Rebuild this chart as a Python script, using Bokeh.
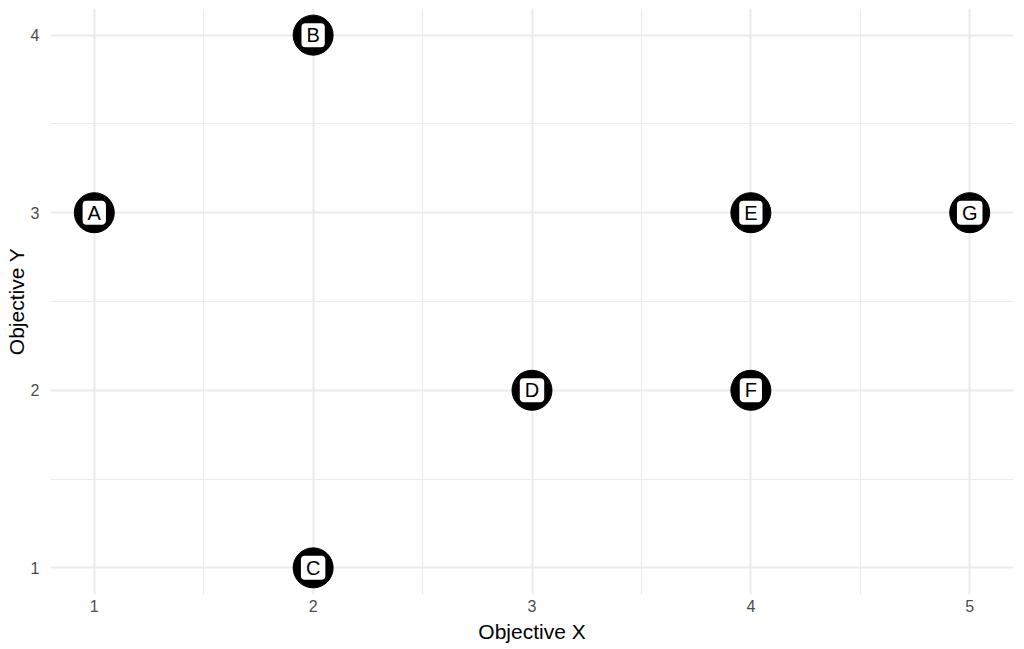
from bokeh.plotting import figure
from bokeh.models import ColumnDataSource, FixedTicker, Range1d
from bokeh.core.properties import value
from bokeh.embed import file_html
from bokeh.resources import INLINE

labels = ["A", "B", "C", "D", "E", "F", "G"]
obj_x = [1, 2, 2, 3, 4, 4, 5]
obj_y = [3, 4, 1, 2, 3, 2, 3]
x_ticks = [1, 2, 3, 4, 5]
y_ticks = [1, 2, 3, 4]

FONT = "Liberation Sans"

src = ColumnDataSource(dict(x=obj_x, y=obj_y, label=labels))

p = figure(width=1016, height=645, output_backend="svg", toolbar_location=None,
           x_range=Range1d(0.8, 5.2), y_range=Range1d(0.85, 4.15),
           min_border_top=8, min_border_right=3, min_border_left=50, min_border_bottom=51)
p.outline_line_color = None
p.background_fill_color = "white"
p.border_fill_color = "white"

p.xaxis.ticker = FixedTicker(ticks=x_ticks, minor_ticks=[0.5, 1.5, 2.5, 3.5, 4.5, 5.5])
p.yaxis.ticker = FixedTicker(ticks=y_ticks, minor_ticks=[0.5, 1.5, 2.5, 3.5, 4.5])

for ax in (p.xaxis, p.yaxis):
    ax.axis_line_color = None
    ax.major_tick_line_color = None
    ax.minor_tick_line_color = None
    ax.major_tick_out = 0
    ax.major_tick_in = 0
    ax.minor_tick_out = 0
    ax.minor_tick_in = 0
    ax.major_label_text_font = FONT
    ax.major_label_text_font_size = "16px"
    ax.major_label_text_color = "#4d4d4d"
    ax.axis_label_text_font = FONT
    ax.axis_label_text_font_size = "21px"
    ax.axis_label_text_font_style = "normal"
    ax.axis_label_text_color = "black"

p.xaxis.axis_label = "Objective X"
p.yaxis.axis_label = "Objective Y"
p.xaxis.major_label_standoff = 5
p.yaxis.major_label_standoff = 11
p.xaxis.axis_label_standoff = 5
p.yaxis.axis_label_standoff = 0

for g in (p.xgrid, p.ygrid):
    g.grid_line_color = "#ebebeb"
    g.grid_line_width = 2
    g.minor_grid_line_color = "#ebebeb"
    g.minor_grid_line_width = 1.2

p.scatter("x", "y", source=src, size=40, fill_color="black", line_color="black")
p.text("x", "y", text="label", source=src, text_align="center", text_baseline="middle",
       text_font=value(FONT), text_font_size="20px", text_color="black",
       background_fill_color="white", border_line_color="black", border_line_width=2,
       padding=dict(left=6, right=6, top=2, bottom=2), border_radius=5)

open("out.html", "w").write(file_html(p, INLINE))
